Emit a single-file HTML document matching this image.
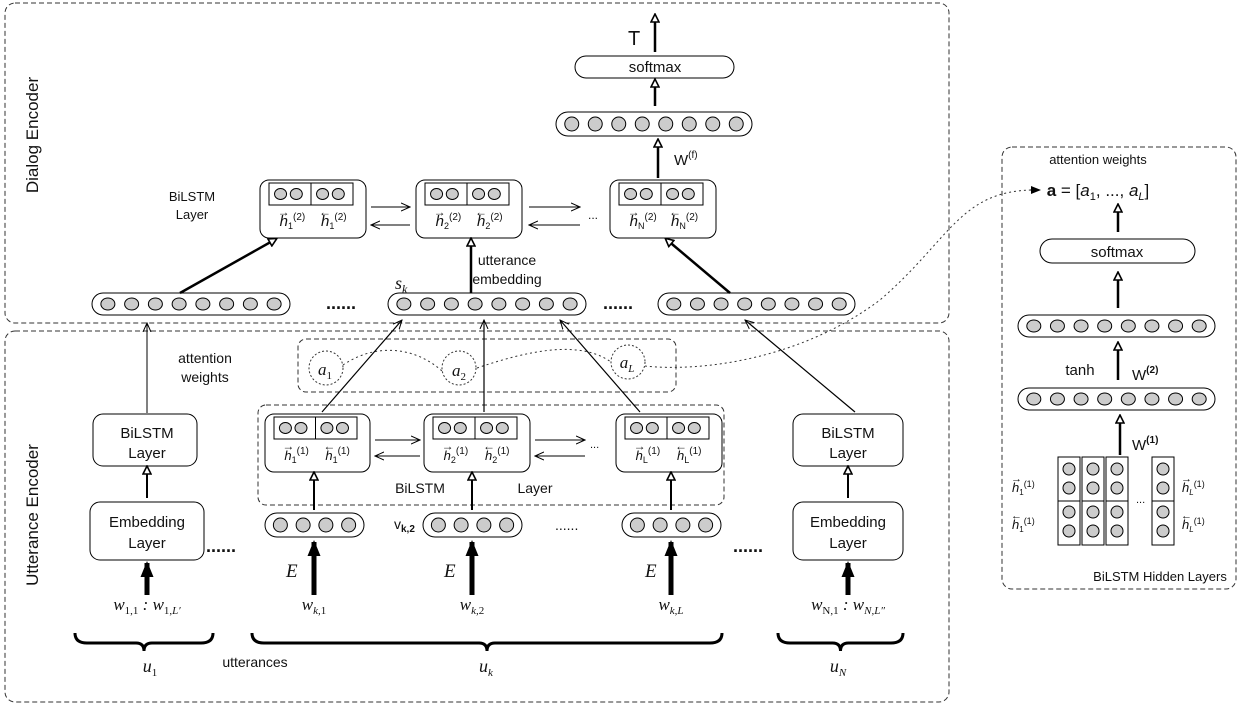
<!DOCTYPE html>
<html><head><meta charset="utf-8"><style>
body{margin:0;background:#fff}
svg{display:block}
text{font-family:"Liberation Sans",sans-serif;fill:#111}
.m{font-family:"Liberation Serif",serif;font-style:italic}
</style></head><body>
<svg id="s" width="1238" height="707" viewBox="0 0 1238 707" xmlns="http://www.w3.org/2000/svg">
<defs>
<marker id="oa" markerWidth="10" markerHeight="10" refX="8" refY="5" orient="auto" markerUnits="userSpaceOnUse" viewBox="0 0 10 10"><path d="M1,1 L9,5 L1,9 Z" fill="#fff" stroke="#000" stroke-width="1.6"/></marker>
<marker id="ta" markerWidth="10" markerHeight="10" refX="9" refY="5" orient="auto" markerUnits="userSpaceOnUse"><path d="M0,0.5 L10,5 L0,9.5" fill="none" stroke="#000" stroke-width="1"/></marker>
<marker id="fa" markerWidth="16" markerHeight="14" refX="14" refY="7" orient="auto" markerUnits="userSpaceOnUse" viewBox="0 0 16 14"><path d="M0,0.5 L16,7 L0,13.5 Z" fill="#000"/></marker>
<marker id="da" markerWidth="10" markerHeight="8" refX="9" refY="4" orient="auto" markerUnits="userSpaceOnUse"><path d="M0,0 L10,4 L0,8 Z" fill="#000"/></marker>
<marker id="la" markerWidth="10" markerHeight="10" refX="9" refY="5" orient="auto" markerUnits="userSpaceOnUse"><path d="M0,1 L9,5 L0,9" fill="none" stroke="#000" stroke-width="1"/></marker>
</defs>
<g fill="none" stroke="#333" stroke-dasharray="5,3" stroke-width="1">
<rect x="5" y="3" width="944" height="320" rx="10"/>
<rect x="5" y="331" width="944" height="371" rx="10"/>
<rect x="1002" y="147" width="234" height="442" rx="10"/>
<rect x="298" y="339" width="378" height="53" rx="8"/>
<rect x="258" y="405" width="466" height="100" rx="8"/>
</g>
<g id="shapes"></g>

<text x="38" y="135" font-size="17" transform="rotate(-90 38 135)" text-anchor="middle">Dialog Encoder</text>
<text x="38" y="515" font-size="17" transform="rotate(-90 38 515)" text-anchor="middle">Utterance Encoder</text>

<text x="628" y="45" font-size="20">T</text>
<text x="655" y="72" font-size="15" text-anchor="middle">softmax</text>
<text x="674" y="165" font-size="15" font-family="Liberation Serif">W<tspan font-size="10" dy="-7">(f)</tspan></text>
<text x="192" y="201" font-size="13" text-anchor="middle">BiLSTM</text>
<text x="192" y="219" font-size="13" text-anchor="middle">Layer</text>
<text x="588" y="219" font-size="12">...</text>
<text x="326" y="309" font-size="18" font-weight="bold">......</text>
<text x="603" y="309" font-size="18" font-weight="bold">......</text>
<text x="395" y="289" font-size="18" class="m">s<tspan font-size="12" dy="4">k</tspan></text>
<text x="507" y="265" font-size="14" text-anchor="middle">utterance</text>
<text x="507" y="284" font-size="14" text-anchor="middle">embedding</text>

<text x="205" y="363" font-size="14" text-anchor="middle">attention</text>
<text x="205" y="382" font-size="14" text-anchor="middle">weights</text>
<text x="147" y="438" font-size="15" text-anchor="middle">BiLSTM</text>
<text x="147" y="458" font-size="15" text-anchor="middle">Layer</text>
<text x="147" y="527" font-size="15" text-anchor="middle">Embedding</text>
<text x="147" y="548" font-size="15" text-anchor="middle">Layer</text>
<text x="848" y="438" font-size="15" text-anchor="middle">BiLSTM</text>
<text x="848" y="458" font-size="15" text-anchor="middle">Layer</text>
<text x="848" y="527" font-size="15" text-anchor="middle">Embedding</text>
<text x="848" y="548" font-size="15" text-anchor="middle">Layer</text>
<text x="206" y="552" font-size="18" font-weight="bold">......</text>
<text x="733" y="552" font-size="18" font-weight="bold">......</text>
<text x="555" y="530" font-size="14">......</text>
<text x="590" y="448" font-size="11">...</text>
<text x="420" y="493" font-size="14" text-anchor="middle">BiLSTM</text>
<text x="535" y="493" font-size="14" text-anchor="middle">Layer</text>
<text x="394" y="529" font-size="14" font-family="Liberation Serif">v<tspan font-size="10" dy="3" font-weight="bold">k,2</tspan></text>
<text x="325" y="375" font-size="17" class="m" text-anchor="middle">a<tspan font-size="11" dy="4" font-style="normal">1</tspan></text>
<text x="459" y="376" font-size="17" class="m" text-anchor="middle">a<tspan font-size="11" dy="4" font-style="normal">2</tspan></text>
<text x="627" y="368" font-size="17" class="m" text-anchor="middle">a<tspan font-size="11" dy="4">L</tspan></text>

<text x="286" y="577" font-size="19" class="m">E</text>
<text x="444" y="577" font-size="19" class="m">E</text>
<text x="645" y="577" font-size="19" class="m">E</text>
<text x="147" y="610" font-size="17" class="m" text-anchor="middle">w<tspan font-size="11" dy="4" font-style="normal">1,1</tspan><tspan dy="-4"> : w</tspan><tspan font-size="11" dy="4" font-style="normal">1,</tspan><tspan font-size="11">L′</tspan></text>
<text x="314" y="610" font-size="17" class="m" text-anchor="middle">w<tspan font-size="11" dy="4">k,</tspan><tspan font-size="11" font-style="normal">1</tspan></text>
<text x="472" y="610" font-size="17" class="m" text-anchor="middle">w<tspan font-size="11" dy="4">k,</tspan><tspan font-size="11" font-style="normal">2</tspan></text>
<text x="671" y="610" font-size="17" class="m" text-anchor="middle">w<tspan font-size="11" dy="4">k,L</tspan></text>
<text x="848" y="610" font-size="17" class="m" text-anchor="middle">w<tspan font-size="11" dy="4" font-style="normal">N,1</tspan><tspan dy="-4"> : w</tspan><tspan font-size="11" dy="4">N,L″</tspan></text>
<text x="150" y="672" font-size="18" class="m" text-anchor="middle">u<tspan font-size="11" dy="4" font-style="normal">1</tspan></text>
<text x="255" y="667" font-size="14" text-anchor="middle">utterances</text>
<text x="486" y="672" font-size="18" class="m" text-anchor="middle">u<tspan font-size="11" dy="4">k</tspan></text>
<text x="838" y="672" font-size="18" class="m" text-anchor="middle">u<tspan font-size="11" dy="4">N</tspan></text>

<text x="1098" y="164" font-size="13" text-anchor="middle">attention weights</text>
<text x="1098" y="196" font-size="17" font-family="Liberation Serif" text-anchor="middle"><tspan font-weight="bold">a</tspan> = [<tspan font-style="italic">a</tspan><tspan font-size="11" dy="4">1</tspan><tspan dy="-4">, ..., </tspan><tspan font-style="italic">a</tspan><tspan font-size="11" dy="4" font-style="italic">L</tspan><tspan dy="-4">]</tspan></text>
<text x="1117" y="257" font-size="15" text-anchor="middle">softmax</text>
<text x="1080" y="375" font-size="15" text-anchor="middle">tanh</text>
<text x="1132" y="380" font-size="15" font-family="Liberation Serif">W<tspan font-size="10" dy="-7" font-weight="bold">(2)</tspan></text>
<text x="1132" y="450" font-size="15" font-family="Liberation Serif">W<tspan font-size="10" dy="-7" font-weight="bold">(1)</tspan></text>
<text x="1136" y="503" font-size="11">...</text>
<text x="1160" y="581" font-size="13" text-anchor="middle">BiLSTM Hidden Layers</text>

<g id="hl" font-family="Liberation Serif" font-style="italic"></g>
</svg>
<script>
var NS="http://www.w3.org/2000/svg",g=document.getElementById("shapes"),hl=document.getElementById("hl");
function el(t,a,p){var e=document.createElementNS(NS,t);for(var k in a)e.setAttribute(k,a[k]);(p||g).appendChild(e);return e}
function rr(x,y,w,h,r){el("rect",{x:x,y:y,width:w,height:h,rx:r,fill:"#fff",stroke:"#000","stroke-width":1})}
function row(x1,y1,x2,y2,n){rr(x1,y1,x2-x1,y2-y1,(y2-y1)/2);var cy=(y1+y2)/2,st=(x2-x1-8)/n;for(var i=0;i<n;i++)el("ellipse",{cx:x1+4+st*(i+.5),cy:cy,rx:Math.min(7,st/2-2),ry:(y2-y1)/2-5,fill:"#ccc",stroke:"#000","stroke-width":1})}
function ln(x1,y1,x2,y2,w,m){var a={x1:x1,y1:y1,x2:x2,y2:y2,stroke:"#000","stroke-width":w};if(m)a["marker-end"]="url(#"+m+")";el("line",a)}
function txt(x,y,s,sz,grey){var e=el("text",{x:x,y:y,"font-size":sz},hl);e.innerHTML=s;if(grey)e.setAttribute("fill","#555");return e}
function bil(x,y,w,h,sub,sup){rr(x,y,w,h,9);var ix=x+9,iw=w-22,ih=22;el("rect",{x:ix,y:y+3,width:iw,height:ih,fill:"#fff",stroke:"#000"});el("line",{x1:ix+iw/2,y1:y+3,x2:ix+iw/2,y2:y+3+ih,stroke:"#000"});
 for(var i=0;i<4;i++){var cx=ix+iw/4*(i<2?0.55+i*0.75:2.55+(i-2)*0.75);el("ellipse",{cx:cx,cy:y+14,rx:6,ry:5.5,fill:"#ccc",stroke:"#000"})}
 var lx=x+w*0.28,rx_=x+w*0.67,ty=y+h-12,fs=sup=="(2)"?15:13,gr=sup=="(1)";
 txt(lx-10,ty,"h<tspan font-size='9' dy='3' font-style='normal'>"+sub+"</tspan><tspan font-size='10' dy='-9' font-style='normal'>"+sup+"</tspan>",fs,gr);
 txt(rx_-10,ty,"h<tspan font-size='9' dy='3' font-style='normal'>"+sub+"</tspan><tspan font-size='10' dy='-9' font-style='normal'>"+sup+"</tspan>",fs,gr);
 txt(lx-12,ty-10,"→",12,gr);txt(rx_-12,ty-10,"←",12,gr);}
// dialog encoder
ln(655,52,655,15,2.5,"oa");rr(575,56,159,22,11);ln(655,106,655,80,2.5,"oa");row(556,112,752,136,8);
ln(658,178,658,140,2.5,"oa");
bil(260,180,106,58,"1","(2)");bil(416,180,106,58,"2","(2)");bil(610,180,106,58,"N","(2)");
ln(371,207,410,207,1,"la");ln(410,225,371,225,1,"la");ln(529,207,580,207,1,"la");ln(580,225,529,225,1,"la");
row(92,293,290,315,8);row(388,293,586,315,8);row(658,293,855,315,8);
ln(180,293,276,239,2.5,"oa");ln(471,293,471,239,2.5,"oa");ln(730,293,666,239,2.5,"oa");
// utterance encoder
ln(147,413,147,323,1,"la");
rr(93,414,104,52,10);rr(90,502,114,58,10);rr(793,414,110,52,10);rr(793,502,110,58,10);
ln(147,498,147,467,2,"oa");ln(848,498,848,467,2,"oa");
ln(147,595,147,563,5,"fa");ln(848,595,848,563,5,"fa");
// attention
el("path",{d:"M343,365 C380,340 420,350 443,372 M477,368 C530,350 580,340 611,362 M645,366 C700,372 800,360 880,300 C950,240 960,190 1035,190",fill:"none",stroke:"#333","stroke-dasharray":"2,3"});
ln(1030,190,1040,190,1,"da");
[[326,368],[459,368],[628,362]].forEach(function(c){el("circle",{cx:c[0],cy:c[1],r:17,fill:"none",stroke:"#333","stroke-dasharray":"2,2"})});
bil(265,414,105,58,"1","(1)");bil(424,414,106,58,"2","(1)");bil(616,414,106,58,"L","(1)");
ln(375,440,420,440,1,"la");ln(420,456,375,456,1,"la");ln(535,440,585,440,1,"la");ln(585,456,535,456,1,"la");
row(265,513,364,537,4);row(423,513,522,537,4);row(622,513,721,537,4);
ln(314,510,314,473,2,"oa");ln(472,510,472,473,2,"oa");ln(671,510,671,473,2,"oa");
ln(314,595,314,542,5,"fa");ln(472,595,472,542,5,"fa");ln(671,595,671,542,5,"fa");
[[322,412,402,320],[484,412,484,320],[640,412,560,320],[855,412,745,320]].forEach(function(l){ln(l[0],l[1],l[2],l[3],1.2,"la")});
// braces
function brace(x1,x2,y){var m=(x1+x2)/2;el("path",{d:"M"+x1+","+(y-10)+" Q"+x1+","+y+" "+(x1+12)+","+y+" L"+(m-8)+","+y+" Q"+m+","+y+" "+m+","+(y+8)+" Q"+m+","+y+" "+(m+8)+","+y+" L"+(x2-12)+","+y+" Q"+x2+","+y+" "+x2+","+(y-10),fill:"none",stroke:"#000","stroke-width":3})}
brace(75,213,643);brace(252,722,643);brace(778,903,643);
// right panel
ln(1118,232,1118,205,2.5,"oa");rr(1040,239,155,24,12);ln(1118,308,1118,273,2.5,"oa");row(1018,315,1215,337,8);
ln(1118,380,1118,343,2.5,"oa");row(1018,388,1215,410,8);ln(1120,455,1120,416,2.5,"oa");
[1058,1082,1106,1152].forEach(function(x){el("rect",{x:x,y:457,width:22,height:44,fill:"#fff",stroke:"#000"});el("rect",{x:x,y:501,width:22,height:44,fill:"#fff",stroke:"#000"});[469,488,512,531].forEach(function(y){el("circle",{cx:x+11,cy:y,r:6,fill:"#ccc",stroke:"#000"})})});
txt(1012,492,"h<tspan font-size='8' dy='3' font-style='normal'>1</tspan><tspan font-size='9' dy='-8' font-style='normal'>(1)</tspan>",13,1);
txt(1012,529,"h<tspan font-size='8' dy='3' font-style='normal'>1</tspan><tspan font-size='9' dy='-8' font-style='normal'>(1)</tspan>",13,1);
txt(1182,492,"h<tspan font-size='8' dy='3'>L</tspan><tspan font-size='9' dy='-8' font-style='normal'>(1)</tspan>",13,1);
txt(1182,529,"h<tspan font-size='8' dy='3'>L</tspan><tspan font-size='9' dy='-8' font-style='normal'>(1)</tspan>",13,1);
txt(1011,482,"→",11,1);txt(1011,519,"←",11,1);txt(1181,482,"→",11,1);txt(1181,519,"←",11,1);
</script>
</body></html>
